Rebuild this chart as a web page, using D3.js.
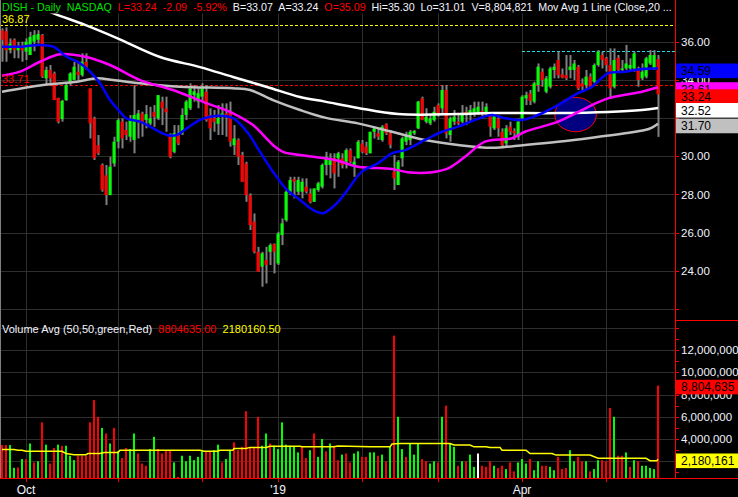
<!DOCTYPE html>
<html><head><meta charset="utf-8">
<script src="https://cdn.jsdelivr.net/npm/d3@7"></script>
<style>html,body{margin:0;padding:0;background:#000;overflow:hidden} text{white-space:pre}</style>
</head><body><svg id="c" width="738" height="497"></svg>
<script>
// ---------- DATA ----------
const opens  = [36.60,36.55,35.56,36.10,35.55,35.80,35.48,35.30,36.00,36.10,
 36.35,34.08,34.52,34.34,33.06,31.95,32.94,33.90,34.00,34.43,
 34.25,34.95,33.55,31.98,30.58,29.54,29.00,27.96,29.62,30.76,
 31.81,31.37,31.02,30.85,31.89,32.24,31.90,31.72,32.33,31.98,
 32.86,32.50,31.11,30.23,31.11,31.20,32.16,32.51,33.20,32.86,
 33.12,33.38,32.16,32.00,31.70,32.16,32.24,32.33,30.58,30.85,
 30.06,29.62,27.96,26.57,24.99,24.21,24.56,24.99,25.40,24.38,
 25.87,26.65,28.14,28.80,28.14,28.14,28.40,28.05,27.61,28.23,
 28.40,29.54,29.54,29.89,29.89,29.89,29.71,30.32,29.54,29.89,
 30.67,30.50,30.15,31.28,31.20,30.85,31.67,31.20,29.19,28.49,
 29.89,30.76,30.85,31.20,31.46,33.03,31.81,31.72,31.89,32.68,
 32.51,33.47,31.11,31.81,31.81,31.81,32.33,32.16,32.30,32.24,
 32.37,32.24,32.16,31.46,31.98,31.28,30.67,31.54,31.32,31.02,
 31.98,33.03,33.29,32.86,33.73,34.43,33.38,33.64,34.52,35.04,
 34.29,34.25,34.52,34.52,34.69,33.82,33.73,34.17,33.90,34.78,
 35.30,35.13,34.78,33.64,35.16,34.52,34.60,34.60,34.60,34.52,
 34.08,34.17,34.86,34.60,35.09];
const highs  = [36.70,36.75,36.17,36.17,36.00,36.00,36.17,36.52,36.60,36.60,
 36.40,34.69,34.78,34.43,33.06,32.95,33.80,34.40,34.95,34.95,
 35.39,35.39,33.55,32.07,31.11,29.62,29.54,29.97,31.02,31.98,
 31.98,31.81,32.16,33.73,32.42,32.33,32.68,32.59,32.68,33.20,
 33.12,33.12,31.20,31.63,31.63,32.51,32.94,33.82,33.73,33.64,
 33.82,33.73,32.51,32.42,32.68,32.77,32.77,32.86,31.63,30.93,
 30.23,29.71,28.05,27.00,25.25,24.99,25.25,25.43,25.43,26.04,
 26.74,28.23,28.92,28.92,28.92,28.84,28.84,28.31,28.31,28.66,
 29.62,30.23,30.15,30.15,30.23,30.15,30.41,30.41,29.97,30.85,
 30.85,30.76,31.28,31.54,31.46,31.63,31.72,31.37,30.06,29.80,
 31.02,31.28,31.37,31.37,32.90,33.12,32.51,32.16,32.59,32.77,
 33.73,33.73,32.07,32.42,32.16,32.68,32.59,32.68,32.86,32.86,
 32.86,32.77,32.24,32.24,32.16,31.46,31.63,31.81,31.46,31.98,
 33.20,33.38,33.47,33.90,34.86,34.60,34.20,34.69,34.86,35.48,
 34.60,35.30,35.30,35.04,34.78,34.08,34.52,34.34,34.86,35.56,
 35.48,35.21,35.65,35.65,35.30,35.04,35.83,35.13,35.48,34.69,
 34.86,35.21,35.56,35.56,35.30];
const lows   = [34.95,34.95,35.39,35.13,35.13,34.95,35.04,35.30,35.50,35.90,
 34.10,33.73,33.82,32.94,31.72,31.81,32.90,33.70,33.99,33.99,
 34.17,34.52,30.93,29.80,30.06,28.14,27.44,27.96,29.45,30.41,
 30.41,30.85,30.76,30.15,30.93,31.02,31.46,31.63,31.54,31.89,
 31.63,31.28,29.89,30.15,30.58,31.11,31.89,32.42,32.86,32.51,
 32.86,31.81,30.85,31.28,31.11,31.11,31.02,30.50,30.06,29.54,
 28.66,27.61,26.13,24.91,23.95,23.16,23.33,24.30,23.86,24.30,
 25.34,26.57,27.96,27.79,27.96,27.79,28.05,27.53,27.61,28.14,
 28.31,29.00,28.84,28.31,28.92,29.36,29.36,29.62,28.92,29.89,
 30.15,30.06,30.15,30.93,30.85,30.76,31.11,30.41,28.23,28.49,
 29.45,30.58,30.58,31.11,31.42,31.89,31.72,31.63,31.81,32.07,
 32.24,30.93,30.76,31.63,31.63,31.72,31.63,31.81,32.07,32.16,
 31.98,32.07,31.02,31.37,31.02,30.41,30.50,31.11,30.85,30.85,
 31.89,32.68,32.68,32.77,33.38,33.64,33.30,33.55,34.08,34.08,
 34.08,33.99,34.08,33.99,33.47,33.38,33.47,33.55,33.82,34.69,
 34.60,34.43,33.03,33.55,34.43,34.43,34.52,34.52,34.43,33.64,
 33.99,34.08,34.78,34.52,31.01];
const closes = [36.10,35.55,35.90,35.56,35.70,35.55,36.00,36.25,36.35,36.40,
 34.17,34.52,34.08,32.94,31.81,32.90,33.73,34.34,34.69,34.25,
 34.95,34.69,31.72,29.89,30.15,28.23,27.96,29.45,30.76,31.89,
 30.93,31.11,31.89,32.16,32.24,31.81,32.20,31.98,32.07,33.20,
 32.51,32.30,29.97,31.20,30.67,32.16,32.86,33.55,33.40,33.30,
 33.64,31.89,31.46,31.80,32.00,32.24,32.07,30.76,30.93,29.97,
 28.66,27.96,26.39,24.99,23.95,24.91,24.30,25.34,24.99,25.95,
 26.48,28.14,28.75,28.66,28.75,28.66,28.14,27.61,28.31,28.58,
 29.54,29.97,29.89,29.10,30.15,29.54,30.32,29.71,29.71,30.76,
 30.23,30.15,31.28,31.46,31.02,31.54,31.20,30.60,28.84,29.71,
 30.93,31.11,31.28,31.32,32.86,31.89,32.07,31.98,32.33,32.16,
 33.47,31.20,31.98,32.07,31.72,32.16,32.16,32.42,32.51,32.59,
 32.20,32.59,31.54,32.16,31.46,30.58,31.46,31.28,31.20,31.81,
 33.12,33.20,32.90,33.82,34.69,33.99,34.08,34.60,34.69,34.25,
 34.12,34.08,34.69,34.86,33.55,33.64,34.17,33.64,34.78,35.48,
 35.04,34.78,33.55,35.04,34.52,34.60,34.86,34.78,35.39,33.99,
 34.43,35.13,35.30,35.30,33.24];
// volume in millions of shares
const volumes = [3.46,3.46,3.46,1.42,1.45,2.2,2.2,3.6,1.9,2.0,
 5.5,3.5,1.8,3.2,3.5,3.4,3.4,2.5,2.1,2.5,
 2.5,2.5,5.5,7.5,6.0,5.0,4.5,3.6,5.0,2.9,
 2.3,3.2,3.1,4.5,2.7,1.8,1.6,3.1,4.2,3.1,
 2.7,3.0,3.0,1.9,0.6,2.5,2.0,2.5,2.1,2.4,
 2.9,2.9,2.9,3.0,3.5,1.9,2.2,3.0,3.7,3.0,
 3.3,6.5,3.3,3.3,6.0,3.4,4.5,3.6,3.4,3.1,
 5.5,3.5,3.4,3.3,2.8,3.3,2.3,3.0,4.5,2.4,
 4.0,2.9,3.6,3.4,2.1,2.6,2.7,1.9,2.7,2.9,
 2.4,2.4,2.8,2.8,2.5,2.6,2.0,3.3,13.3,6.0,
 3.1,2.4,3.6,2.6,3.6,2.2,2.0,1.8,2.0,1.9,
 6.0,7.0,3.6,3.3,1.6,2.0,2.0,2.6,1.5,2.7,
 1.6,1.5,2.0,1.6,1.4,1.6,1.3,1.9,1.1,1.9,
 2.2,1.8,2.2,1.2,2.0,1.6,1.6,1.5,1.2,2.4,
 1.3,1.4,3.0,2.0,2.4,2.0,2.0,1.1,1.3,2.1,
 2.1,2.0,6.8,6.0,2.5,2.5,2.8,1.5,2.1,2.0,
 1.6,1.6,1.4,1.3,8.804635];
const volDir = "rrggrgrgrg"+"rgrrgrgggr"+"rrrrrgrgrg"+"rrggrrrggr"+"rrrgrggggg"+
 "grrggrggrr"+"rrrrrggrgg"+"gggggrrgrg"+"grgrrgrrgg"+"rrggrgrgrg"+
 "grgggrrggr"+"grggrgrggw"+"rrrgrrgrrg"+"ggrggrrggr"+"rrggrrgrgg"+
 "rrrgrrgrgr"+"ggggr";
// 50-day volume average (millions), [bar index, value]
const volAvg = [[0,3.07],[3,3.07],[4,3.0],[5,3.0],[6,2.9],[15,2.9],[16,2.7],[18,2.6],[21,2.6],[21.5,2.7],
 [24.5,2.7],[25.5,2.8],[29,2.8],[29.5,3.0],[49.5,3.0],[50.5,2.9],[53.8,2.9],[54.5,3.0],[57.7,3.0],[58,3.15],
 [61,3.15],[62,3.25],[66,3.25],[67,3.35],[74.5,3.35],[75,3.3],[83,3.3],[84,3.37],[92,3.3],[97,3.3],
 [97.5,3.55],[99.5,3.6],[112,3.6],[113,3.46],[117,3.46],[118,3.3],[121,3.3],[122,3.25],[124.5,3.25],[125,3.0],
 [131,3.0],[132,2.7],[137.5,2.7],[138.5,2.56],[147,2.56],[149,2.27],[161,2.27],[162,2.05],[163.7,2.05],[164,2.180161]];
// moving averages, [bar index, price]
const maBlue = [[0,35.74],[5,35.74],[9,35.83],[12.8,35.74],[16.2,35.21],[19.5,34.87],[22,34.43],[24.5,33.82],[27,32.94],[29.5,32.33],
 [31,31.99],[34.5,31.81],[37.8,31.46],[41.2,31.11],[43.7,31.11],[46.2,31.46],[49.5,31.9],[52,32.07],[54.5,32.12],[57.75,31.99],
 [61.25,31.28],[64.5,30.23],[67.75,29.19],[71.25,28.23],[74.5,27.71],[77.75,27.18],[80.25,27.01],[83.25,27.44],[85.75,28.05],[90,29.19],
 [94,29.63],[97.5,30.15],[100.75,30.32],[105.75,30.85],[110,31.28],[114,31.55],[118.25,31.9],[122.5,32.16],[125.75,31.99],[130,31.9],
 [134,32.16],[139,32.68],[144,33.3],[147.5,33.64],[151.5,34.34],[155.75,34.43],[160,34.57],[164,34.59]];
const maMagenta = [[0,34.22],[4.5,34.43],[9.5,34.95],[14.5,35.34],[20.75,35.21],[27,34.78],[34.5,33.99],[42.75,33.47],[51.25,32.77],[57.75,32.25],
 [62.75,31.63],[67.75,30.59],[70.25,30.23],[74.5,30.06],[83.25,29.8],[89,29.45],[97.5,29.33],[101.5,29.16],[107.5,29.16],[111.5,29.36],
 [115.75,29.97],[120.75,30.76],[127.5,30.94],[130.75,31.28],[139,31.81],[147.5,32.68],[151.5,33.03],[160,33.38],[164,33.61]];
const maWhite = [[0,38.63],[5,38.19],[12.75,37.5],[20.75,36.88],[28.75,36.19],[39.5,35.2],[49.5,34.67],[57.75,34.15],[66.25,33.63],[74.5,33.1],
 [80.75,32.86],[89,32.53],[99,32.21],[114,32.21],[122.5,32.26],[139,32.26],[151.5,32.32],[160,32.42],[164,32.52]];
const maGray = [[0,33.38],[10.3,33.73],[18.75,33.9],[23.75,34.08],[27.75,33.99],[34.5,33.82],[44.5,33.64],[57.75,33.56],[62,33.47],[67.75,32.94],
 [74.5,32.42],[80.75,32.02],[89,31.72],[97.5,31.28],[105.75,30.85],[114,30.59],[122.5,30.44],[130.75,30.59],[139,30.76],[147.5,30.97],
 [155.75,31.2],[160.75,31.37],[162.5,31.5],[164,31.70]];
const monthStarts = [6,29,50,69,90,109,130,151];
const monthLabels = [[6,"Oct"],[69,"'19"],[130,"Apr"]];
const priceTicks = [22,24,26,28,30,32,34,36];
const priceLabelTicks = [24,26,28,30,34,36];
const volTicks = [1,2,3,4,5,6,7,8,9,10,11,12,13,14];
const volLabelTicks = [4,6,8,10,12];
const lastValues = [["blue",34.59],["magenta",33.61],["red",33.24],["white",32.52],["gray",31.70]];
const hLevels = [[36.87,"#ffff00",0,"36.87"],[33.71,"#ff0000",0,"33.71"],[35.51,"#20e0e0",130,null]];
const ellipseAnno = {i:143.4,p:32.18,di:5.2,dp:0.9};
const header = [["DISH - Daily  NASDAQ  ","#00e000"],["L=33.24  -2.09  -5.92%  ","#ff0000"],["B=33.07  A=33.24  ","#f4f4ff"],
 ["O=35.09  ","#ff0000"],["Hi=35.30  Lo=31.01  V=8,804,821  Mov Avg 1 Line (Close,20 ...","#f4f4ff"]];
const volHeader = [["Volume Avg (50,50,green,Red)  ","#f4f4ff"],["8804635.00  ","#ff0000"],["2180160.50","#ffff00"]];

// ---------- CHART ----------
const FONT = "'Liberation Sans', Arial, sans-serif";
const svg = d3.select("#c");
const AX = 675;
const x = d3.scaleLinear().domain([0,164]).range([2,658]);
const y = d3.scaleLinear().domain([24,36]).range([270.7,41.7]);
const yv = d3.scaleLinear().domain([0.5,14.7]).range([478,320]);
const colMap = {blue:"#0000ff",magenta:"#ff00ff",red:"#ff0000",white:"#ffffff",gray:"#c0c0c0"};

svg.append("rect").attr("width",738).attr("height",497).attr("fill","#000");
const defs = svg.append("defs");
defs.append("clipPath").attr("id","cp").append("rect").attr("x",0).attr("y",0).attr("width",AX).attr("height",318);
defs.append("clipPath").attr("id","cv").append("rect").attr("x",0).attr("y",320).attr("width",AX).attr("height",158);
defs.append("clipPath").attr("id","ch").append("rect").attr("x",0).attr("y",0).attr("width",672).attr("height",20);

const grid = svg.append("g").attr("stroke","#2e2e2e").attr("stroke-width",1);
monthStarts.forEach(m=>grid.append("line").attr("x1",Math.round(x(m))+0.5).attr("x2",Math.round(x(m))+0.5).attr("y1",0).attr("y2",478));
priceTicks.forEach(t=>grid.append("line").attr("x1",0).attr("x2",AX).attr("y1",Math.round(y(t))+0.5).attr("y2",Math.round(y(t))+0.5));
[2,4,6,8,10,12,14].forEach(t=>grid.append("line").attr("x1",0).attr("x2",AX).attr("y1",Math.round(yv(t))+0.5).attr("y2",Math.round(yv(t))+0.5));

// price panel
const pp = svg.append("g").attr("clip-path","url(#cp)");
pp.append("ellipse").attr("cx",x(ellipseAnno.i)).attr("cy",y(ellipseAnno.p))
  .attr("rx",x(ellipseAnno.i+ellipseAnno.di)-x(ellipseAnno.i)).attr("ry",y(ellipseAnno.p-ellipseAnno.dp)-y(ellipseAnno.p))
  .attr("fill","#000080").attr("stroke","#ff0000").attr("stroke-width",1);
hLevels.forEach(([v,c,start])=>{
  pp.append("line").attr("x1",start?x(start):0).attr("x2",AX).attr("y1",Math.round(y(v))+0.5).attr("y2",Math.round(y(v))+0.5)
    .attr("stroke",c).attr("stroke-width",1).attr("stroke-dasharray","3,2");
});
const idx = d3.range(opens.length);
pp.selectAll(".wick").data(idx).join("rect")
  .attr("x",i=>x(i)-0.5).attr("width",2)
  .attr("y",i=>y(highs[i])).attr("height",i=>Math.max(1,y(lows[i])-y(highs[i])))
  .attr("fill","#808080");
pp.selectAll(".body").data(idx).join("rect")
  .attr("x",i=>x(i)-1.5).attr("width",3)
  .attr("y",i=>y(Math.max(opens[i],closes[i])))
  .attr("height",i=>Math.max(1.5,Math.abs(y(opens[i])-y(closes[i]))))
  .attr("fill",i=>closes[i]>=opens[i]?"#00ff00":"#ff0000");
const line = d3.line().x(d=>x(d[0])).y(d=>y(d[1])).curve(d3.curveCatmullRom.alpha(0.5));
[[maGray,"#c0c0c0"],[maWhite,"#ffffff"],[maMagenta,"#ff00ff"],[maBlue,"#0000ff"]].forEach(([d,c])=>{
  pp.append("path").attr("d",line(d)).attr("fill","none").attr("stroke",c).attr("stroke-width",2.5);
});

// header background and text
svg.append("rect").attr("x",0).attr("y",0).attr("width",AX).attr("height",13.5).attr("fill","#000");
const ht = svg.append("text").attr("x",2).attr("y",11).attr("xml:space","preserve")
  .attr("font-family",FONT).attr("font-size","10.7px").attr("clip-path","url(#ch)");
header.forEach(([t,c])=>ht.append("tspan").attr("fill",c).text(t));
hLevels.filter(d=>d[3]).forEach(([v,c,s,t])=>svg.append("text").attr("x",2).attr("y",y(v)-2.5).attr("fill",c)
  .attr("font-family",FONT).attr("font-size","11px").text(t));

// volume panel
const vp = svg.append("g").attr("clip-path","url(#cv)");
const vcol = {g:"#00ff00",r:"#ff0000",w:"#ffffff"};
vp.selectAll(".vb").data(idx).join("rect")
  .attr("x",i=>x(i)-1).attr("width",2)
  .attr("y",i=>yv(volumes[i])).attr("height",i=>478-yv(volumes[i]))
  .attr("fill",i=>vcol[volDir[i]]);
vp.append("path").attr("d",d3.line().x(d=>x(d[0])).y(d=>yv(d[1]))(volAvg))
  .attr("fill","none").attr("stroke","#ffff00").attr("stroke-width",1.5);
const vt = svg.append("text").attr("x",2).attr("y",333).attr("xml:space","preserve")
  .attr("font-family",FONT).attr("font-size","11px");
volHeader.forEach(([t,c])=>vt.append("tspan").attr("fill",c).text(t));

// axes frame
svg.append("line").attr("x1",AX+0.5).attr("x2",AX+0.5).attr("y1",0).attr("y2",478).attr("stroke","#ff0000");
svg.append("line").attr("x1",0).attr("x2",738).attr("y1",478.5).attr("y2",478.5).attr("stroke","#ff0000");
svg.append("line").attr("x1",AX).attr("x2",738).attr("y1",320.5).attr("y2",320.5).attr("stroke","#ff0000");
svg.append("line").attr("x1",0.5).attr("x2",0.5).attr("y1",0).attr("y2",478).attr("stroke","#808080");

// right axis
const ra = svg.append("g");
priceTicks.forEach(t=>ra.append("line").attr("x1",AX).attr("x2",AX+4).attr("y1",Math.round(y(t))+0.5).attr("y2",Math.round(y(t))+0.5).attr("stroke","#ff0000"));
priceLabelTicks.forEach(t=>ra.append("text").attr("x",681).attr("y",y(t)).attr("dy","0.36em").attr("fill","#f0f4ff")
    .attr("font-family",FONT).attr("font-size","11.5px").text(d3.format(".2f")(t)));
volTicks.forEach(t=>ra.append("line").attr("x1",AX).attr("x2",AX+4).attr("y1",Math.round(yv(t))+0.5).attr("y2",Math.round(yv(t))+0.5).attr("stroke","#ff0000"));
volLabelTicks.forEach(t=>ra.append("text").attr("x",681).attr("y",yv(t)).attr("dy","0.36em").attr("fill","#f0f4ff")
  .attr("font-family",FONT).attr("font-size","11.5px").text(d3.format(",")(t*1e6)));
monthStarts.forEach(m=>ra.append("line").attr("x1",Math.round(x(m))+0.5).attr("x2",Math.round(x(m))+0.5).attr("y1",478).attr("y2",482).attr("stroke","#ff0000"));
monthLabels.forEach(([m,t])=>ra.append("text").attr("x",x(m)).attr("y",494).attr("text-anchor","middle").attr("fill","#f0f4ff")
  .attr("font-family",FONT).attr("font-size","12px").text(t));

// value boxes
lastValues.forEach(([k,v])=>{
  const cy = y(v)+2.2;
  ra.append("rect").attr("x",AX+1).attr("y",cy-7.3).attr("width",738-AX-1).attr("height",14.6).attr("fill",colMap[k]);
  ra.append("text").attr("x",681).attr("y",cy).attr("dy","0.36em").attr("fill","#000")
    .attr("font-family",FONT).attr("font-size","12px").text(d3.format(".2f")(v));
});
[[volumes[volumes.length-1],"#ff0000"],[volAvg[volAvg.length-1][1],"#ffff00"]].forEach(([v,c])=>{
  const cy = yv(v)+1.5;
  ra.append("rect").attr("x",AX+1).attr("y",cy-7.3).attr("width",738-AX-1).attr("height",14.6).attr("fill",c);
  ra.append("text").attr("x",681).attr("y",cy).attr("dy","0.36em").attr("fill","#000")
    .attr("font-family",FONT).attr("font-size","12px").text(d3.format(",.0f")(v*1e6));
});
</script></body></html>
